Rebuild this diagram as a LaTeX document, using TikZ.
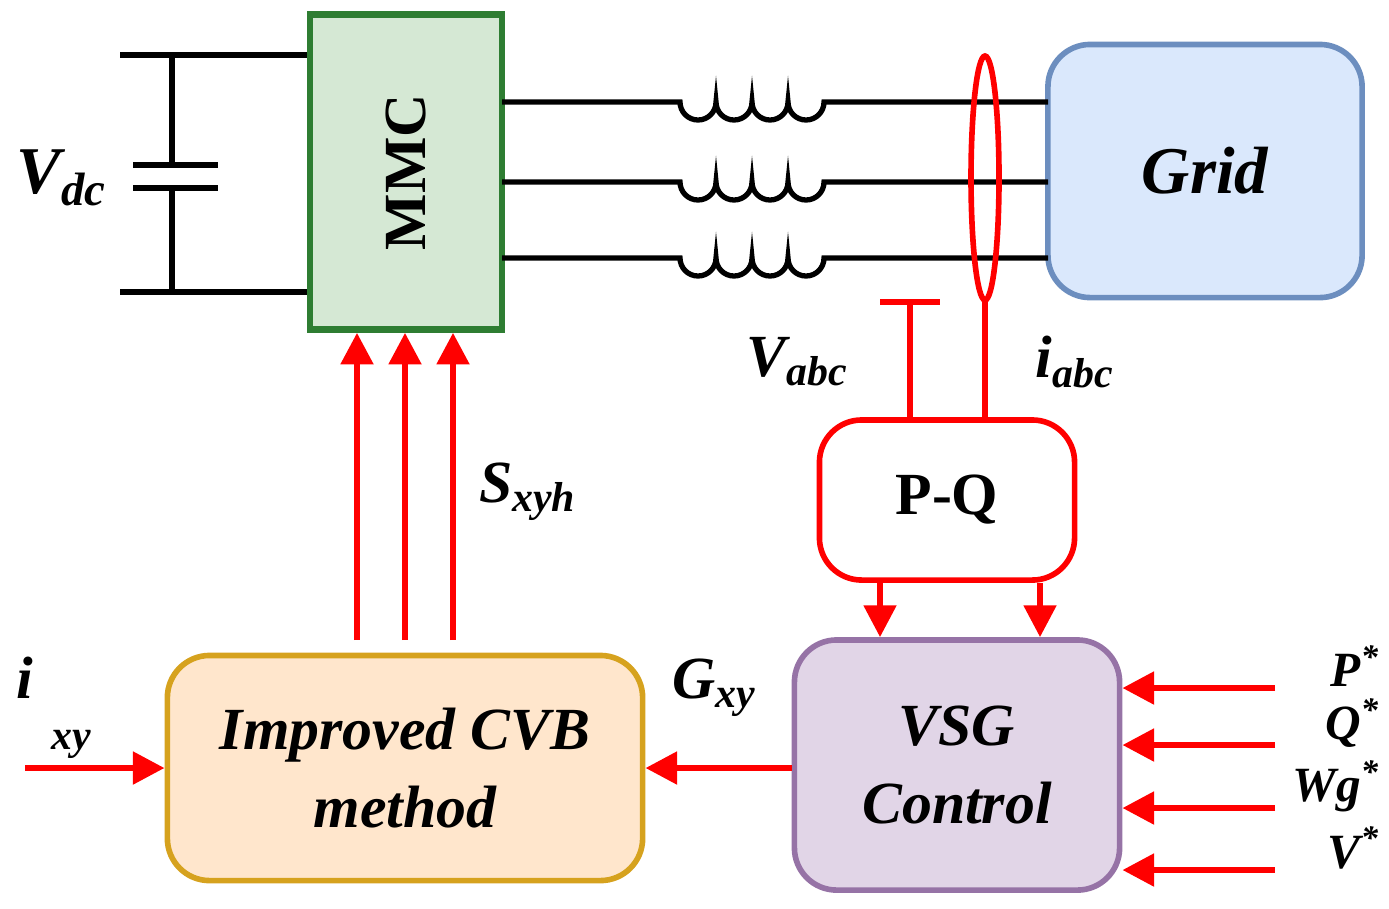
\documentclass[tikz,border=0pt]{standalone}
\usepackage{fontspec}
\setmainfont{Liberation Serif}
\usetikzlibrary{arrows.meta,calc}
\definecolor{mmcfill}{HTML}{D5E8D4}
\definecolor{mmcdraw}{HTML}{2E7D32}
\definecolor{gridfill}{HTML}{DAE8FC}
\definecolor{griddraw}{HTML}{6C8EBF}
\definecolor{vsgfill}{HTML}{E1D5E7}
\definecolor{vsgdraw}{HTML}{9673A6}
\definecolor{cvbfill}{HTML}{FFE6CC}
\definecolor{cvbdraw}{HTML}{D6A21E}
\definecolor{sred}{HTML}{FF0000}
\newcommand{\lsub}[2]{#1\textsubscript{#2}}
\newcommand{\lsup}[2]{#1\textsuperscript{#2}}
\tikzset{
  pw/.style={line width=1.5pt,black},
  sig/.style={line width=1.2pt,sred},
  sarr/.style={sig,-{Triangle[length=9pt,width=9pt]}},
  blk/.style={rounded corners=12pt,line width=1.6pt,align=center,
    font=\fontsize{17}{22}\selectfont\bfseries\itshape},
  lbl/.style={font=\fontsize{17}{20}\selectfont\bfseries\itshape},
  inl/.style={font=\fontsize{14}{16}\selectfont\bfseries\itshape,inner sep=1pt}
}
\begin{document}
\begin{tikzpicture}[x=0.01cm,y=-0.01cm]
\useasboundingbox (0,0) rectangle (1389,908);
% DC side
\draw[pw] (120,55) -- (310,55);
\draw[pw] (120,292) -- (310,292);
\draw[pw] (172,55) -- (172,165);
\draw[pw] (172,188) -- (172,292);
\draw[pw] (133,165) -- (218,165);
\draw[pw] (133,188) -- (218,188);
\node[lbl,font=\fontsize{19}{22}\selectfont\bfseries\itshape] (vdc) at (62,178) {\lsub{V}{dc}};
% MMC
\node[draw=mmcdraw,fill=mmcfill,line width=1.8pt,minimum width=1.92cm,minimum height=3.15cm] (mmc) at (406,172) {};
\node[rotate=90,font=\fontsize{17}{20}\selectfont\bfseries] (mmct) at (mmc) {MMC};
% Grid
\node[blk,draw=griddraw,fill=gridfill,minimum width=3.14cm,minimum height=2.53cm,font=\fontsize{19}{22}\selectfont\bfseries\itshape] (grid) at (1205,171) {Grid};
% three phase lines with inductors
\foreach \y in {102,182,258}{
  \coordinate (l\y) at (502,\y);
  \coordinate (r\y) at (1048,\y);
  \draw[pw] (l\y) -- (680,\y)
    arc[start angle=180,end angle=0,radius=18] arc[start angle=180,end angle=0,radius=18]
    arc[start angle=180,end angle=0,radius=18] arc[start angle=180,end angle=0,radius=18]
    -- (r\y);
}
% current sensor
\draw[sig,line width=1.6pt] (985,178) ellipse[x radius=14,y radius=122];
% P-Q
\node[blk,draw=sred,fill=white,minimum width=2.55cm,minimum height=1.6cm,font=\fontsize{17}{20}\selectfont\bfseries] (pq) at (947,500) {P-Q};
\coordinate (ib) at (985,300);
\draw[sig,line width=1.6pt] (ib) -- (pq.north -| ib);
\coordinate (vt) at (910,302);
\draw[sig,line width=1.6pt] (880,302) -- (940,302);
\draw[sig,line width=1.6pt] (vt) -- (pq.north -| vt);
\node[lbl] (vabc) at (798,362) {\lsub{V}{abc}};
\node[lbl] (iabc) at (1075,362) {\lsub{i}{abc}};
% VSG
\node[blk,draw=vsgdraw,fill=vsgfill,minimum width=3.25cm,minimum height=2.5cm] (vsg) at (957,765) {VSG\\Control};
\coordinate (pa) at (880,580);
\coordinate (pb) at (1040,580);
\draw[sarr,line width=1.6pt] (pq.south -| pa) -- (vsg.north -| pa);
\draw[sarr,line width=1.6pt] (pq.south -| pb) -- (vsg.north -| pb);
% inputs
\foreach \y/\t/\n in {688/\lsup{P}{*}/p,745/\lsup{Q}{*}/q,808/\lsup{Wg}{*}/w,870/\lsup{V}{*}/v}{
  \node[inl,anchor=east] (in\n) at (1384,\y-22) {\t};
  \coordinate (s\n) at (1275,\y);
  \draw[sarr,line width=1.8pt] (s\n) -- (vsg.east |- s\n);
}
% CVB
\node[blk,draw=cvbdraw,fill=cvbfill,minimum width=4.75cm,minimum height=2.25cm] (cvb) at (405,768) {Improved CVB\\method};
\draw[sarr,line width=1.8pt] (vsg.west |- 0,768) -- (cvb.east |- 0,768);
\node[lbl] (gxy) at (715,688) {\lsub{G}{xy}};
\coordinate (ix) at (25,768);
\draw[sarr,line width=1.8pt] (ix) -- (cvb.west |- ix);
\node[lbl,align=left] (ixy) at (55,708) {i\\[-8pt]\hspace*{10pt}\textsubscript{xy}};
% gate signals
\foreach \x in {357,405,453}{
  \coordinate (g\x) at (\x,640);
  \draw[sarr,line width=1.8pt] (g\x) -- (mmc.south -| g\x);
}
\node[lbl] (sxyh) at (528,492) {\lsub{S}{xyh}};
\end{tikzpicture}
\end{document}
